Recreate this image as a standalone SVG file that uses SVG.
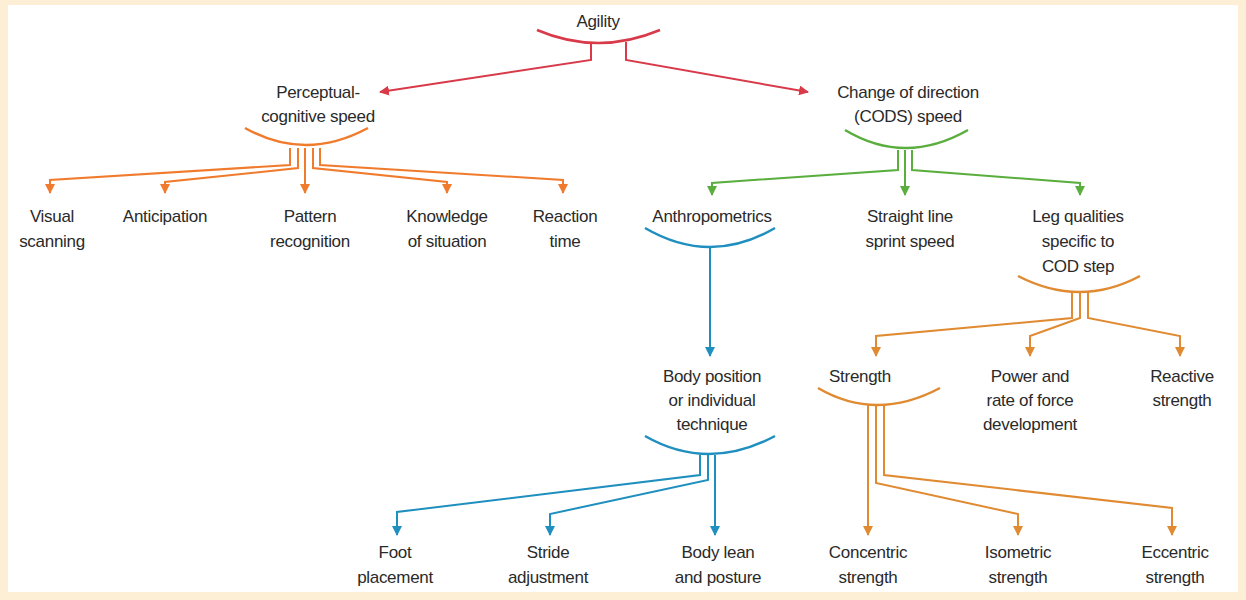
<svg xmlns="http://www.w3.org/2000/svg" width="1246" height="600" viewBox="0 0 1246 600">
<style>
text{font-family:"Liberation Sans",Arial,sans-serif;font-size:17px;fill:#2a2a2a;text-anchor:middle;letter-spacing:-0.3px}
.c{fill:none;stroke-width:2}
.r{stroke:#d83a4a}.o{stroke:#f07b2c}.g{stroke:#5aae3e}.b{stroke:#1f8fbf}.y{stroke:#e08a32}
.arc{fill:none;stroke-width:2.5}
</style>
<defs>
<marker id="mr" viewBox="0 0 10 10" refX="9" refY="5" markerWidth="5" markerHeight="5" orient="auto"><path d="M0,0L10,5L0,10z" fill="#d83a4a"/></marker>
<marker id="mo" viewBox="0 0 10 10" refX="9" refY="5" markerWidth="5" markerHeight="5" orient="auto"><path d="M0,0L10,5L0,10z" fill="#f07b2c"/></marker>
<marker id="mg" viewBox="0 0 10 10" refX="9" refY="5" markerWidth="5" markerHeight="5" orient="auto"><path d="M0,0L10,5L0,10z" fill="#5aae3e"/></marker>
<marker id="mb" viewBox="0 0 10 10" refX="9" refY="5" markerWidth="5" markerHeight="5" orient="auto"><path d="M0,0L10,5L0,10z" fill="#1f8fbf"/></marker>
<marker id="my" viewBox="0 0 10 10" refX="9" refY="5" markerWidth="5" markerHeight="5" orient="auto"><path d="M0,0L10,5L0,10z" fill="#e08a32"/></marker>
</defs>
<rect width="1246" height="600" fill="#fcefd6"/>
<rect x="8" y="5" width="1230" height="587" fill="#ffffff"/>

<g id="connectors">
<g class="c r" marker-end="url(#mr)">
<path d="M591,42V60L380,92"/><path d="M626,42V60L808,92"/>
</g>
<g class="c o" marker-end="url(#mo)">
<path d="M290,148V165L50,180V193"/><path d="M298,148V168L165,182V193"/><path d="M305,148V193"/><path d="M313,148V168L447,182V193"/><path d="M320,148V165L563,180V193"/>
</g>
<g class="c g" marker-end="url(#mg)">
<path d="M898,150V170L712,183V195"/><path d="M905,150V195"/><path d="M912,150V170L1080,183V195"/>
</g>
<path class="c b" marker-end="url(#mb)" d="M710,248V356"/>
<g class="c y" marker-end="url(#my)">
<path d="M1072,292V318L876,336V356"/><path d="M1080,292V318L1030,336V356"/><path d="M1088,292V318L1180,336V356"/>
</g>
<g class="c b" marker-end="url(#mb)">
<path d="M700,455V475L397,512V535"/><path d="M708,455V480L550,514V535"/><path d="M715,455V535"/>
</g>
<g class="c y" marker-end="url(#my)">
<path d="M868,405V535"/><path d="M876,405V483L1018,514V535"/><path d="M884,405V475L1172,508V535"/>
</g>
</g>

<g id="agility"><text x="598" y="27">Agility</text><path class="arc r" d="M537,30Q598,56 660,30"/></g>
<g id="perceptual"><text x="318" y="98">Perceptual-</text><text x="318" y="122">cognitive speed</text><path class="arc o" d="M245,128Q305,162 368,128"/></g>
<g id="cods"><text x="908" y="98">Change of direction</text><text x="908" y="122">(CODS) speed</text><path class="arc g" d="M845,130Q905,166 968,130"/></g>
<g id="visual"><text x="52" y="222">Visual</text><text x="52" y="247">scanning</text></g>
<g id="anticipation"><text x="165" y="222">Anticipation</text></g>
<g id="pattern"><text x="310" y="222">Pattern</text><text x="310" y="247">recognition</text></g>
<g id="knowledge"><text x="447" y="222">Knowledge</text><text x="447" y="247">of situation</text></g>
<g id="reaction"><text x="565" y="222">Reaction</text><text x="565" y="247">time</text></g>
<g id="anthropometrics"><text x="712" y="222">Anthropometrics</text><path class="arc b" d="M645,228Q710,266 775,228"/></g>
<g id="sprint"><text x="910" y="222">Straight line</text><text x="910" y="247">sprint speed</text></g>
<g id="leg"><text x="1078" y="222">Leg qualities</text><text x="1078" y="247">specific to</text><text x="1078" y="272">COD step</text><path class="arc y" d="M1018,276Q1080,308 1140,276"/></g>
<g id="body"><text x="712" y="382">Body position</text><text x="712" y="406">or individual</text><text x="712" y="430">technique</text><path class="arc b" d="M645,436Q708,472 775,436"/></g>
<g id="strength"><text x="860" y="382">Strength</text><path class="arc y" d="M818,388Q876,422 940,388"/></g>
<g id="power"><text x="1030" y="382">Power and</text><text x="1030" y="406">rate of force</text><text x="1030" y="430">development</text></g>
<g id="reactive"><text x="1182" y="382">Reactive</text><text x="1182" y="406">strength</text></g>
<g id="foot"><text x="395" y="558">Foot</text><text x="395" y="583">placement</text></g>
<g id="stride"><text x="548" y="558">Stride</text><text x="548" y="583">adjustment</text></g>
<g id="lean"><text x="718" y="558">Body lean</text><text x="718" y="583">and posture</text></g>
<g id="concentric"><text x="868" y="558">Concentric</text><text x="868" y="583">strength</text></g>
<g id="isometric"><text x="1018" y="558">Isometric</text><text x="1018" y="583">strength</text></g>
<g id="eccentric"><text x="1175" y="558">Eccentric</text><text x="1175" y="583">strength</text></g>
</svg>
